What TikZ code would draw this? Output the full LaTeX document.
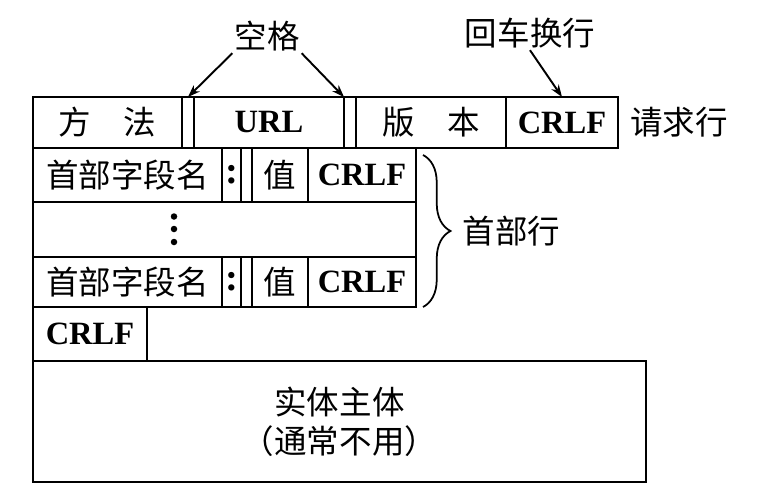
\documentclass[tikz,border=0pt]{standalone}
\usepackage{fontspec}
\setmainfont{Liberation Serif}
\newfontfamily\cjk{Noto Sans CJK SC}
\usetikzlibrary{positioning,decorations.pathreplacing,arrows.meta}

\newcommand{\cjkfont}{\fontsize{18.5}{22}\selectfont\cjk}
\newcommand{\latfont}{\fontsize{18.5}{22}\selectfont\bfseries}

\tikzset{
  cell/.style={draw, line width=1.3pt, inner sep=0pt, outer sep=0pt},
  cjkcell/.style={cell, font=\cjkfont},
  latcell/.style={cell, font=\latfont},
  lbl/.style={inner sep=1pt, font=\cjkfont},
}

\begin{document}
\begin{tikzpicture}[node distance=0pt, >={Stealth[length=7pt,width=5pt]}]
        \useasboundingbox (0,0) rectangle (15.18,-10.02);

        % Request line
        \node[cjkcell, anchor=north west, minimum width=2.98cm, minimum height=1.02cm] (method) at (0.66,-1.94) {方\quad 法};
        \node[cell, minimum width=0.24cm, minimum height=1.02cm, right=of method] (sp1) {};
        \node[latcell, minimum width=3.0cm, minimum height=1.02cm, right=of sp1] (url) {URL};
        \node[cell, minimum width=0.24cm, minimum height=1.02cm, right=of url] (sp2) {};
        \node[cjkcell, minimum width=3.0cm, minimum height=1.02cm, right=of sp2] (version) {版\quad 本};
        \node[latcell, minimum width=2.24cm, minimum height=1.02cm, right=of version] (crlf1) {CRLF};
        \node[lbl, inner sep=0pt, right=0.24cm of crlf1] (reqline) {请求行};

        % Header lines
        \node[cjkcell, minimum width=3.78cm, minimum height=1.08cm, below right=0pt and 0pt of method.south west] (hname1) {首部字段名};
        \node[latcell, font=\fontsize{22}{22}\selectfont\bfseries, minimum width=0.38cm, minimum height=1.08cm, right=of hname1] (colon1) {:};
        \node[cell, minimum width=0.22cm, minimum height=1.08cm, right=of colon1] (sp3) {};
        \node[cjkcell, minimum width=1.12cm, minimum height=1.08cm, right=of sp3] (val1) {值};
        \node[latcell, minimum width=2.16cm, minimum height=1.08cm, right=of val1] (crlf2) {CRLF};

        \node[cell, minimum width=7.66cm, minimum height=1.1cm, below right=0pt and 0pt of hname1.south west] (rowdots) {};
        \coordinate[right=2.82cm of rowdots.west] (vd);
        \foreach \dy in {-0.25,0.01,0.26}
          \fill ([yshift=\dy cm]vd) circle (0.065);

        \node[cjkcell, minimum width=3.78cm, minimum height=1.0cm, below right=0pt and 0pt of rowdots.south west] (hname2) {首部字段名};
        \node[latcell, font=\fontsize{22}{22}\selectfont\bfseries, minimum width=0.38cm, minimum height=1.0cm, right=of hname2] (colon2) {:};
        \node[cell, minimum width=0.22cm, minimum height=1.0cm, right=of colon2] (sp4) {};
        \node[cjkcell, minimum width=1.12cm, minimum height=1.0cm, right=of sp4] (val2) {值};
        \node[latcell, minimum width=2.16cm, minimum height=1.0cm, right=of val2] (crlf3) {CRLF};

        % Blank line and body
        \node[latcell, minimum width=2.28cm, minimum height=1.08cm, below right=0pt and 0pt of hname2.south west] (crlf4) {CRLF};
        \node[cjkcell, align=center, minimum width=12.26cm, minimum height=2.42cm, below right=0pt and 0pt of crlf4.south west] (body) {实体主体\\（通常不用）};

        % Brace
        \coordinate (bt) at ([xshift=0.14cm, yshift=-0.14cm]crlf2.north east);
        \coordinate (bb) at ([xshift=0.14cm]crlf3.south east);
        \draw[line width=1pt, decorate, decoration={brace, amplitude=0.55cm}] (bt) -- node[lbl, inner sep=0pt, right=0.78cm] (hdrlines) {首部行} (bb);

        % Labels
        \node[lbl] (space) at (5.34,-0.72) {空格};
        \node[lbl] (crlftxt) at (10.6,-0.66) {回车换行};

        % Arrows
        \draw[->, line width=1.1pt] (space.south west) -- (sp1.north);
        \draw[->, line width=1.1pt] (space.south east) -- (sp2.north west);
        \draw[->, line width=1.1pt] (crlftxt.south) -- (crlf1.north);
    \end{tikzpicture}
\end{document}
